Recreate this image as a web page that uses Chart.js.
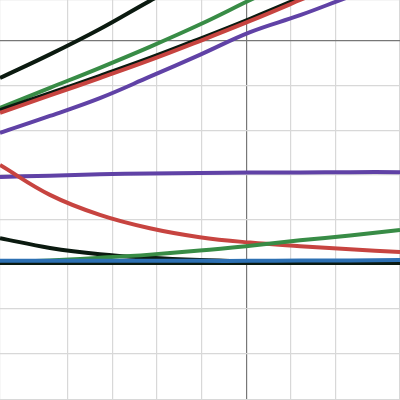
<!DOCTYPE html>
<html><head>
<script src="https://cdn.jsdelivr.net/npm/chart.js@4"></script>
<style>html,body{margin:0;padding:0;background:#fff}#wrap{width:400px;height:400px}</style>
</head><body>
<div id="wrap"><canvas id="c"></canvas></div>
<script>
// x positions (graph units), shared by all curves
const xs = [-5.52, -4.4, -3.28, -2.16, -1.04, 0.09, 1.21, 2.33, 3.45];

const blackTop = [-0.83, -0.3, 0.27, 0.9, 1.5, null, null, null, null];
const greenTop = [-1.5, -1.05, -0.6, -0.13, 0.37, 0.92, 1.45, null, null];
const redTop = [-1.61, -1.22, -0.83, -0.43, 0.0, 0.45, 0.92, 1.4, null];
const blackMid = [-1.55, -1.17, -0.78, -0.38, 0.05, 0.5, 0.97, 1.45, null];
const purpleTop = [-2.06, -1.68, -1.28, -0.8, -0.31, 0.2, 0.58, 1.0, 1.4];
const purpleFlat = [-3.05, -3.02, -2.99, -2.97, -2.96, -2.95, -2.95, -2.94, -2.94];
const redLow = [-2.78, -3.45, -3.9, -4.2, -4.4, -4.52, -4.6, -4.67, -4.73];
const greenLow = [-4.96, -4.92, -4.86, -4.79, -4.7, -4.59, -4.47, -4.36, -4.24];
const blackLow = [-4.42, -4.64, -4.78, -4.86, -4.91, -4.94, -4.96, -4.97, -4.97];
const blueFlat = [-4.93, -4.93, -4.93, -4.93, -4.93, -4.93, -4.92, -4.92, -4.91];
const blackFlat = [-4.98, -4.98, -4.98, -4.98, -4.98, -4.98, -4.98, -4.98, -4.98];

function pts(ys) { return xs.map((x, i) => ({ x: x, y: ys[i] })); }
function ds(ys, color) {
    return { data: pts(ys), borderColor: color, borderWidth: 4, pointRadius: 0, tension: 0.4, fill: false, spanGaps: false };
}

const gridColor = ctx => ctx.tick && ctx.tick.value === 0 ? "#777" : "#d8d8d8";

new Chart(document.getElementById("c"), {
    type: "line",
    data: {
        datasets: [
            ds(blueFlat, "#2d70b3"),
            ds(blackFlat, "#0b1a10"),
            ds(greenLow, "#388c46"),
            ds(redLow, "#c74440"),
            ds(blackLow, "#0b1a10"),
            ds(purpleFlat, "#6042a6"),
            ds(purpleTop, "#6042a6"),
            ds(redTop, "#c74440"),
            ds(blackMid, "#0b1a10"),
            ds(greenTop, "#388c46"),
            ds(blackTop, "#0b1a10")
        ]
    },
    options: {
        responsive: true, maintainAspectRatio: false, animation: false,
        layout: { padding: 0 },
        plugins: { legend: { display: false }, tooltip: { enabled: false } },
        scales: {
            x: { type: "linear", min: -5.52, max: 3.45, ticks: { display: false, stepSize: 1 },
                 grid: { color: gridColor, lineWidth: 1.2, drawTicks: false }, border: { display: false } },
            y: { min: -8.05, max: 0.92, ticks: { display: false, stepSize: 1 },
                 grid: { color: gridColor, lineWidth: 1.2, drawTicks: false }, border: { display: false } }
        }
    }
});
</script>
</body></html>
